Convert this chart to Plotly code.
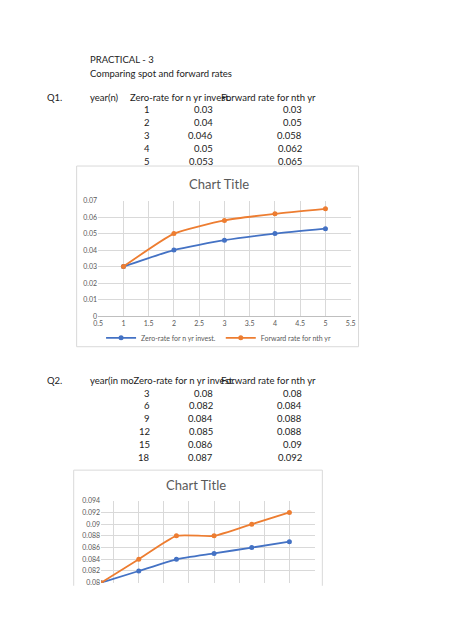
import plotly.graph_objects as go

W, H = 474, 632
years1 = [1, 2, 3, 4, 5]
zero1 = [0.03, 0.04, 0.046, 0.05, 0.053]
fwd1 = [0.03, 0.05, 0.058, 0.062, 0.065]
years2 = [3, 6, 9, 12, 15, 18]
zero2 = [0.08, 0.082, 0.084, 0.085, 0.086, 0.087]
fwd2 = [0.08, 0.084, 0.088, 0.088, 0.09, 0.092]
ZNAME = "Zero-rate for n yr invest."
FNAME = "Forward rate for nth yr"
BLUE, ORANGE = "#4472C4", "#ED7D31"
FONT = "Lato"

def px(x): return x / W
def py(y): return 1 - y / H

fig = go.Figure()
for xs, zs, fs, xa, ya, leg in [(years1, zero1, fwd1, "x", "y", True), (years2, zero2, fwd2, "x2", "y2", False)]:
    fig.add_trace(go.Scatter(x=xs, y=zs, name=ZNAME, xaxis=xa, yaxis=ya, mode="lines+markers",
                             line=dict(color=BLUE, width=1.8, shape="spline", smoothing=0.5),
                             marker=dict(size=5, color=BLUE), showlegend=leg))
    fig.add_trace(go.Scatter(x=xs, y=fs, name=FNAME, xaxis=xa, yaxis=ya, mode="lines+markers",
                             line=dict(color=ORANGE, width=1.8, shape="spline", smoothing=0.5),
                             marker=dict(size=5, color=ORANGE), showlegend=leg))

ann = []
def txt(x, y, s, anchor="left", size=9.5, color="#222"):
    ann.append(dict(x=px(x), y=py(y), xref="paper", yref="paper", text=s, showarrow=False,
                    xanchor=anchor, yanchor="middle", font=dict(family=FONT, size=size, color=color)))

txt(77, 47, "PRACTICAL - 3")
txt(77, 61, "Comparing spot and forward rates")
txt(33, 86, "Q1.")
txt(77, 86, "year(n)")
txt(117, 86, ZNAME)
txt(210, 86, FNAME)
for i, (a, b, c) in enumerate(zip(years1, zero1, fwd1)):
    y = 98 + i * 13
    txt(142, y, str(a), "right"); txt(206, y, f"{b:g}", "right"); txt(297, y, f"{c:g}", "right")
txt(33, 372, "Q2.")
txt(77, 372, "year(in mo" + ZNAME)
txt(210, 372, FNAME)
for i, (a, b, c) in enumerate(zip(years2, zero2, fwd2)):
    y = 385 + i * 13
    txt(142, y, str(a), "right"); txt(206, y, f"{b:g}", "right"); txt(297, y, f"{c:g}", "right")
txt(210, 173, "Chart Title", "center", 13, "#595959")
txt(187, 478, "Chart Title", "center", 13, "#595959")

grid = "#d9d9d9"
tick = dict(family=FONT, size=7, color="#595959")
fig.update_layout(
    width=W, height=H, margin=dict(l=0, r=0, t=0, b=0),
    paper_bgcolor="white", plot_bgcolor="white", annotations=ann,
    xaxis=dict(domain=[px(87), px(345)], range=[0.5, 5.5], dtick=0.5, gridcolor=grid,
               showline=True, linecolor="#bfbfbf", tickfont=tick, zeroline=False, ticks=""),
    yaxis=dict(domain=[py(307), py(190)], range=[0, 0.07], dtick=0.01, gridcolor=grid,
               tickfont=tick, zeroline=False),
    xaxis2=dict(domain=[px(90), px(308)], range=[3, 20], tick0=0, dtick=2, gridcolor=grid,
                showticklabels=False, zeroline=False, anchor="y2"),
    yaxis2=dict(domain=[py(577), py(494)], range=[0.08, 0.094], dtick=0.002, gridcolor=grid,
                tickfont=tick, zeroline=False, anchor="x2"),
    legend=dict(orientation="h", x=px(210), y=py(329), xanchor="center", yanchor="middle",
                font=dict(family=FONT, size=7, color="#595959"), bgcolor="rgba(0,0,0,0)"),
    shapes=[
        dict(type="rect", xref="paper", yref="paper", x0=px(65), x1=px(353), y0=py(338), y1=py(155),
             line=dict(color="#d9d9d9", width=1)),
        dict(type="rect", xref="paper", yref="paper", x0=px(62), x1=px(316), y0=py(640), y1=py(463),
             line=dict(color="#d9d9d9", width=1)),
        dict(type="rect", xref="paper", yref="paper", x0=0, x1=1, y0=0, y1=py(580),
             fillcolor="white", line=dict(width=0), layer="above"),
    ],
)
fig.write_html("out.html")
